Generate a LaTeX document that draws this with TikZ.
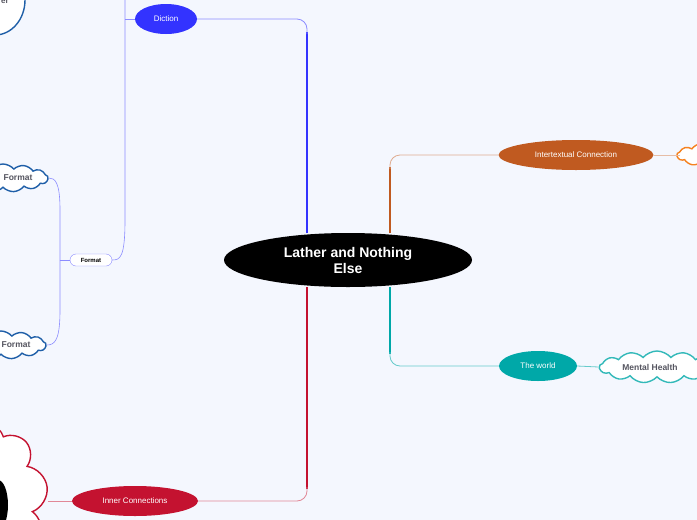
\documentclass[tikz,border=0pt]{standalone}
\usepackage{fontspec}
\setmainfont{Liberation Sans}
\usetikzlibrary{shapes.symbols,shapes.geometric}
\definecolor{bg}{HTML}{F4F7FE}
\definecolor{dblue}{HTML}{3333FF}
\definecolor{lblue}{HTML}{8C8CFF}
\definecolor{cblue}{HTML}{1F5FA8}
\definecolor{cred}{HTML}{C41230}
\definecolor{cbrown}{HTML}{C05A20}
\definecolor{corange}{HTML}{F58220}
\definecolor{cteal}{HTML}{00A8A8}
\definecolor{gtxt}{HTML}{555560}
\tikzset{
 topic/.style={ellipse,inner sep=0pt,text=white,font=\fontsize{8}{9}\selectfont},
 cl/.style={cloud,cloud puffs=13,cloud puff arc=100,aspect=3.5,cloud ignores aspect,draw,line width=1.4pt,fill=white,inner sep=0pt,font=\bfseries\fontsize{8.5}{9}\selectfont,text=gtxt},
}
\begin{document}
\begin{tikzpicture}[x=1pt,y=-1pt]
\fill[bg] (0,0) rectangle (697,520);
\clip (0,0) rectangle (697,520);
\useasboundingbox (0,0) rectangle (697,520);
% nodes
\node[ellipse,fill=black,minimum width=248pt,minimum height=54pt,inner sep=0pt,text=white,align=center,font=\bfseries\fontsize{14}{16}\selectfont] (c) at (348,260) {Lather and Nothing\\Else};
\node[topic,fill=dblue,minimum width=62pt,minimum height=30pt] (d) at (166,19) {Diction};
\node[draw=lblue,fill=white,rounded corners=6pt,minimum width=42pt,minimum height=12pt,inner sep=0pt,font=\bfseries\fontsize{6}{7}\selectfont] (f) at (91,260) {Format};
\node[cl,draw=cblue,minimum width=90pt,minimum height=28pt] (f1) at (3,178) {\hspace*{30pt}Format};
\node[cl,draw=cblue,minimum width=90pt,minimum height=28pt] (f2) at (1,345) {\hspace*{30pt}Format};
\node[ellipse,draw=cblue,line width=1.4pt,fill=white,minimum width=60pt,minimum height=70pt,inner sep=0pt,font=\bfseries\fontsize{8}{9}\selectfont,text=gtxt] (er) at (-5,0) {\hspace*{20pt}\raisebox{-8pt}{er}};
\node[topic,fill=cred,minimum width=126pt,minimum height=30pt] (ic) at (135,501) {Inner Connections};
\node[cloud,cloud puffs=9,draw=cred,line width=1.4pt,fill=white,minimum width=120pt,minimum height=150pt] (rc) at (-12,500) {};
\node[ellipse,fill=black,minimum width=20pt,minimum height=50pt] (rb) at (-2,505) {};
\node[topic,fill=cbrown,minimum width=155pt,minimum height=30pt] (it) at (576,155) {Intertextual Connection};
\node[cl,draw=corange,minimum width=90pt,minimum height=26pt] (oc) at (722,155) {};
\node[topic,fill=cteal,minimum width=78pt,minimum height=30pt] (w) at (538,366) {The world};
\node[cl,draw=cteal!80,minimum width=115pt,minimum height=32pt] (mh) at (657,367) {Mental Health\hspace*{14pt}};
% connectors
\draw[dblue,line width=2pt] (307,233) -- (307,32);
\draw[lblue,line width=0.8pt,rounded corners=10pt] (307,34) -- (307,19) -- (d.east);
\draw[cred,line width=2pt] (307,287) -- (307,489);
\draw[cred!50,line width=0.8pt,rounded corners=10pt] (307,487) -- (307,501) -- (ic.east);
\draw[cred!50,line width=0.8pt] (ic.west) -- (48,501);
\draw[cbrown,line width=2pt] (390,233) -- (390,167);
\draw[cbrown!50,line width=0.8pt,rounded corners=10pt] (390,169) -- (390,155) -- (it.west);
\draw[cbrown!40,line width=0.8pt] (it.east) -- (680,155);
\draw[cteal,line width=2pt] (390,287) -- (390,354);
\draw[cteal!60,line width=0.8pt,rounded corners=10pt] (390,352) -- (390,366) -- (w.west);
\draw[cteal!60,line width=0.8pt] (w.east) -- (mh.west);
\draw[lblue,line width=0.6pt] (d.west) -- (125,19);
\draw[lblue,line width=0.6pt] (125,0) -- (125,220) .. controls (125,258) and (120,260) .. (f.east);
\draw[lblue,line width=0.6pt] (f.west) -- (60,260);
\draw[lblue,line width=0.6pt] (60,260) -- (60,210) .. controls (60,182) and (55,178) .. (f1.east);
\draw[lblue,line width=0.6pt] (60,260) -- (60,310) .. controls (60,340) and (55,345) .. (f2.east);
\end{tikzpicture}
\end{document}
